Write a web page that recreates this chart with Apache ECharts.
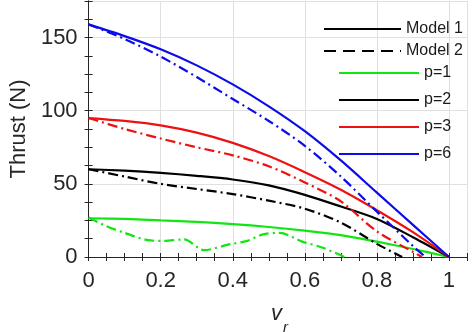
<!DOCTYPE html>
<html><head><meta charset="utf-8">
<script src="https://cdn.jsdelivr.net/npm/echarts@6/dist/echarts.min.js"></script>
<style>html,body{margin:0;padding:0;background:#fff}#c{width:474px;height:332px}</style>
</head><body><div id="c"></div>
<script>
const FONT = 'Liberation Sans, Arial, Helvetica, sans-serif';

// Model 1 (solid) curves
const xModel1 = [0, 0.1, 0.2, 0.3, 0.4, 0.5, 0.6, 0.7, 0.8, 0.9, 1];
const p1Model1 = [26.5, 26, 25, 24, 22.5, 20.5, 18, 15, 10.5, 5.5, 0];
const p2Model1 = [60, 59, 57.5, 55.5, 53, 49, 42.5, 34.5, 26, 13.5, 0];
const p3Model1 = [95, 93, 90, 85, 78, 69, 58, 46, 32, 17, 0];
const p6Model1 = [159, 151, 142, 131, 118, 103, 86, 66, 44, 22, 0];

// Model 2 (dash-dot) curves
const xP1Model2 = [0, 0.05, 0.1, 0.165, 0.21, 0.265, 0.32, 0.39, 0.44, 0.484, 0.53, 0.593, 0.648, 0.71];
const p1Model2 = [27, 21, 16.5, 11.5, 11, 12, 4.7, 8.6, 11, 15.5, 16.5, 10.5, 6.5, 0];
const xP2Model2 = [0, 0.1, 0.2, 0.3, 0.4, 0.5, 0.6, 0.7, 0.8, 0.87];
const p2Model2 = [60, 55, 50, 46.5, 43, 38.5, 33, 23.5, 9, 0];
const xP3Model2 = [0, 0.1, 0.2, 0.3, 0.4, 0.5, 0.6, 0.7, 0.8, 0.9, 0.925];
const p3Model2 = [95, 87.5, 81, 75, 69.5, 62, 51, 38, 17.5, 3.5, 0];
const xP6Model2 = [0, 0.1, 0.2, 0.3, 0.4, 0.5, 0.6, 0.7, 0.8, 0.9, 0.935];
const p6Model2 = [159, 149, 137, 123, 108, 93, 76, 55, 31, 7.5, 0];

const legendModels = ['Model 1', 'Model 2'];
const legendP = ['p=1', 'p=2', 'p=3', 'p=6'];

const GREEN = '#12e612', BLACK = '#000000', RED = '#ee1111', BLUE = '#0c0ce8';
const DASHDOT = [10, 4, 2, 4];
const LW = 2.2;

function pairs(xs, ys) { return xs.map((x, i) => [x, ys[i]]); }

const AX = '#262626';
const tickAxisX = (pos, line) => ({
  type: 'value', position: pos, min: 0, max: 1.05, interval: 0.05,
  axisLine: { show: line, lineStyle: { color: AX, width: 1 } },
  axisTick: { show: true, inside: true, length: 4, lineStyle: { color: AX } },
  axisLabel: { show: false }, splitLine: { show: false }
});
const tickAxisY = (pos, line) => ({
  type: 'value', position: pos, min: 0, max: 175, interval: 12.5,
  axisLine: { show: line, lineStyle: { color: AX, width: 1 } },
  axisTick: { show: true, inside: true, length: 4, lineStyle: { color: AX } },
  axisLabel: { show: false }, splitLine: { show: false }
});

function solid(name, xs, ys, color) {
  return { name, type: 'line', data: pairs(xs, ys), symbol: 'none', smooth: 0.3,
    lineStyle: { color, width: LW }, itemStyle: { color }, z: 3 };
}
function dashdot(name, xs, ys, color) {
  return { name, type: 'line', data: pairs(xs, ys), symbol: 'none', smooth: 0.3,
    lineStyle: { color, width: LW, type: DASHDOT }, itemStyle: { color }, z: 3 };
}

const legendCommon = {
  orient: 'vertical', padding: 0, itemHeight: 16, selectedMode: false,
  itemStyle: { color: 'rgba(0,0,0,0)', borderColor: 'rgba(0,0,0,0)', borderWidth: 0 },
  textStyle: { fontSize: 16, fontFamily: FONT, color: '#1a1a1a', lineHeight: 16 }
};

const chart = echarts.init(document.getElementById('c'), null, { renderer: 'canvas' });
chart.setOption({
  animation: false,
  backgroundColor: '#ffffff',
  grid: { left: 83, right: 7, top: 1, bottom: 75 },
  xAxis: [
    {
      type: 'value', position: 'bottom', min: 0, max: 1.05, interval: 0.2,
      axisLine: { show: true, lineStyle: { color: AX, width: 1 } },
      axisTick: { show: false },
      axisLabel: {
        fontSize: 22, color: AX, fontFamily: FONT, margin: 13,
        formatter: v => (Math.abs(v * 5 - Math.round(v * 5)) < 1e-6 ? String(Math.round(v * 10) / 10) : '')
      },
      splitLine: { show: true, lineStyle: { color: '#e0e0e0', width: 1 } }
    },
    tickAxisX('bottom', false),
    tickAxisX('top', true)
  ],
  yAxis: [
    {
      type: 'value', position: 'left', min: 0, max: 175, interval: 50,
      name: 'Thrust (N)', nameLocation: 'middle', nameGap: 55,
      nameTextStyle: { fontSize: 22, color: AX, fontFamily: FONT },
      axisLine: { show: true, lineStyle: { color: AX, width: 1 } },
      axisTick: { show: false },
      axisLabel: {
        fontSize: 22, color: AX, fontFamily: FONT, margin: 11,
        formatter: v => (v % 50 === 0 ? String(v) : '')
      },
      splitLine: { show: true, lineStyle: { color: '#e0e0e0', width: 1 } }
    },
    tickAxisY('left', false),
    tickAxisY('right', true)
  ],
  legend: [
    Object.assign({}, legendCommon, { data: legendModels, left: 323, top: 21, itemWidth: 77, itemGap: 6 }),
    Object.assign({}, legendCommon, { data: legendP, left: 338, top: 65, itemWidth: 80, itemGap: 11 })
  ],
  graphic: [
    { type: 'text', x: 271, y: 314, silent: true,
      style: { text: 'v', fontSize: 22, fontStyle: 'italic', fontFamily: FONT, fill: AX, align: 'left', verticalAlign: 'middle' } },
    { type: 'text', x: 283, y: 328, silent: true,
      style: { text: 'r', fontSize: 15, fontStyle: 'italic', fontFamily: FONT, fill: AX, align: 'left', verticalAlign: 'middle' } }
  ],
  series: [
    { name: 'Model 1', type: 'line', data: [], symbol: 'none', lineStyle: { color: BLACK, width: LW }, itemStyle: { color: BLACK } },
    { name: 'Model 2', type: 'line', data: [], symbol: 'none', lineStyle: { color: BLACK, width: LW, type: [12, 7] }, itemStyle: { color: BLACK } },
    solid('p=1', xModel1, p1Model1, GREEN),
    solid('p=2', xModel1, p2Model1, BLACK),
    solid('p=3', xModel1, p3Model1, RED),
    solid('p=6', xModel1, p6Model1, BLUE),
    dashdot('p=1 Model 2', xP1Model2, p1Model2, GREEN),
    dashdot('p=2 Model 2', xP2Model2, p2Model2, BLACK),
    dashdot('p=3 Model 2', xP3Model2, p3Model2, RED),
    dashdot('p=6 Model 2', xP6Model2, p6Model2, BLUE)
  ]
});
</script>
</body></html>
